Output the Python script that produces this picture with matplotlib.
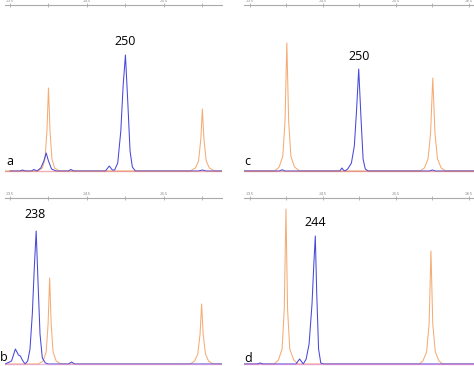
import matplotlib.pyplot as plt

# Traces (size in bp, relative intensity)
# panel a
a_blue_x = [235, 236.3, 236.6, 237, 237.8, 238.1, 238.5, 239.0, 239.4, 239.7, 240.0, 240.4, 241,
            242.6, 242.9, 243.3, 247.4, 247.9, 248.3, 248.6, 249.0, 249.4, 249.7, 250.0, 250.3,
            250.6, 250.9, 251.3, 259.5, 260, 260.5, 262.5]
a_blue_y = [0, 0, 1, 0, 0, 1.5, 0, 3, 10, 18, 10, 2, 0,
            0, 1.5, 0, 0, 5, 1, 1, 8, 40, 85, 116, 70,
            20, 4, 0, 0, 1, 0, 0]
a_orange_x = [234.4, 238.6, 239.2, 239.55, 239.8, 240, 240.2, 240.45, 240.8, 241.4, 242,
              258.4, 259.1, 259.5, 259.8, 260, 260.2, 260.5, 260.9, 261.6, 262.5]
a_orange_y = [0, 0, 3, 12, 40, 83, 40, 12, 3, 0, 0,
              0, 3, 10, 32, 62, 32, 10, 3, 0, 0]

# panel b
b_blue_x = [234.4, 235.2, 235.7, 236.1, 236.35, 236.6, 236.95, 237.3, 237.6, 237.9, 238.15, 238.4,
            238.65, 238.9, 239.2, 239.6, 240, 242.6, 243, 243.4, 262.5]
b_blue_y = [0, 3, 15, 9, 8, 4, 0, 3, 15, 50, 95, 133,
            80, 30, 6, 1, 0, 0, 2, 0, 0]
b_orange_x = [234.4, 238.7, 239.3, 239.7, 239.95, 240.15, 240.35, 240.6, 241, 241.6, 242.5,
              258.4, 259.0, 259.4, 259.7, 259.9, 260.1, 260.4, 260.8, 261.4, 262.5]
b_orange_y = [0, 0, 3, 12, 40, 86, 40, 12, 3, 0, 0,
              0, 3, 10, 30, 60, 30, 10, 3, 0, 0]

# panel c
c_blue_x = [234.2, 239, 239.4, 239.8, 247.3, 247.6, 247.8, 248.0, 248.4, 248.9, 249.3, 249.6,
            249.9, 250.2, 250.5, 250.8, 251.2, 259.6, 260, 260.4, 265.7]
c_blue_y = [0, 0, 1.2, 0, 0, 3, 1, 0, 2, 8, 25, 60,
            102, 55, 12, 2, 0, 0, 1, 0, 0]
c_orange_x = [234.2, 238.4, 239.0, 239.5, 239.8, 240.05, 240.3, 240.6, 241.1, 241.8, 242.3,
              258.3, 258.9, 259.4, 259.75, 260.05, 260.35, 260.7, 261.2, 261.8, 265.7]
c_orange_y = [0, 0, 4, 15, 50, 128, 50, 15, 4, 0, 0,
              0, 3, 12, 38, 93, 38, 12, 3, 0, 0]

# panel d
d_blue_x = [234.2, 236, 236.4, 236.8, 241.3, 241.6, 241.8, 242.0, 242.3, 242.7, 243.1, 243.5,
            243.75, 243.95, 244.15, 244.4, 244.7, 245.1, 265.7]
d_blue_y = [0, 0, 1, 0, 0, 3, 5, 3, 0, 5, 20, 60,
            100, 128, 70, 15, 1, 0, 0]
d_orange_x = [234.2, 238.3, 238.9, 239.4, 239.7, 239.93, 240.15, 240.45, 241.0, 241.6, 242.2,
              258.2, 258.7, 259.2, 259.55, 259.8, 260.05, 260.4, 260.9, 261.4, 265.7]
d_orange_y = [0, 0, 4, 15, 55, 155, 55, 15, 4, 0, 0,
              0, 3, 12, 40, 113, 40, 12, 3, 0, 0]

peak_labels = ["250", "238", "250", "244"]
peak_pos = [250.0, 238.3, 249.9, 243.95]
peak_top = [116, 133, 102, 128]
panel_letters = ["a", "b", "c", "d"]
ticks_ab = [235, 245, 255]
ticks_cd = [235, 245, 255, 265]

blue = "#4848dc"
orange = "#f4ac74"

fig = plt.figure(figsize=(4.74, 3.66), dpi=100)
W, H = 474, 366

# panel boxes in pixels: left, right, top, bottom, xlim, ylim
boxes = [
    (5, 222, 5, 174, (234.35, 262.55), (-3, 166)),
    (5, 222, 198, 366, (234.35, 262.55), (-2, 166)),
    (244, 474, 5, 174, (234.18, 265.7), (-3, 166)),
    (244, 474, 198, 366, (234.18, 265.7), (-2, 166)),
]
traces = [
    (a_blue_x, a_blue_y, a_orange_x, a_orange_y),
    (b_blue_x, b_blue_y, b_orange_x, b_orange_y),
    (c_blue_x, c_blue_y, c_orange_x, c_orange_y),
    (d_blue_x, d_blue_y, d_orange_x, d_orange_y),
]
letter_pos = [(6, 165), (0, 361), (244, 165), (244, 362)]
label_gap = [7, 10, 6, 7]
base_col = ["#e07878", "#e090d0", "#d87070", "#e080d8"]

for i in range(4):
    l, r, t, b, xl, yl = boxes[i]
    ax = fig.add_axes([l / W, 1 - b / H, (r - l) / W, (b - t) / H])
    bx, by, ox, oy = traces[i]
    ax.plot(ox, oy, color=orange, lw=0.75)
    ax.plot(bx, by, color=blue, lw=0.75)
    ax.plot(xl, [0, 0], color=base_col[i], lw=1.0, alpha=0.6)
    ax.text(peak_pos[i], peak_top[i] + label_gap[i], peak_labels[i],
            ha="center", va="bottom", fontsize=9, family="Open Sans")
    ax.set_xlim(xl)
    ax.set_ylim(yl)
    for s in ["left", "right", "bottom"]:
        ax.spines[s].set_visible(False)
    ax.spines["top"].set_color("#aaaaaa")
    ax.spines["top"].set_linewidth(0.8)
    ax.set_yticks([])
    ticks = ticks_ab if i < 2 else ticks_cd
    ax.set_xticks(ticks)
    ax.set_xticks([x + 5 for x in ticks if x + 5 < xl[1]], minor=True)
    ax.xaxis.tick_top()
    ax.tick_params(axis="x", which="both", direction="inout", length=2.5, width=0.5,
                   colors="#999999", labelsize=3.2, pad=0.5)
    ax.patch.set_alpha(0)
    fig.text(letter_pos[i][0] / W, 1 - letter_pos[i][1] / H, panel_letters[i],
             fontsize=9, family="Open Sans", ha="left", va="baseline")

fig.savefig("out.png", dpi=100)
